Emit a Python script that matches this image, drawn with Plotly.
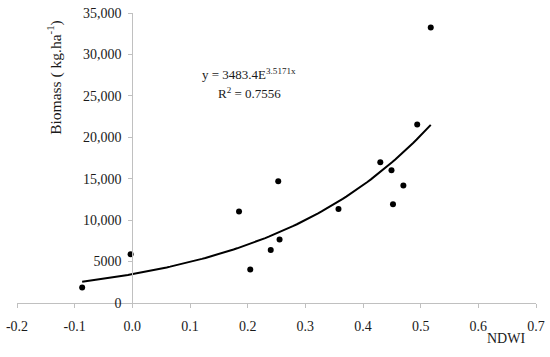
import numpy as np
import plotly.graph_objects as go

ndwi = [-0.087, -0.003, 0.185, 0.2045, 0.240, 0.253, 0.2553, 0.3575, 0.430, 0.4494, 0.452, 0.470, 0.494, 0.5175]
biomass = [1860, 5880, 11050, 4030, 6400, 14700, 7650, 11350, 16990, 16030, 11920, 14180, 21550, 33260]

fit_a = 3483.4
fit_b = 3.5171

x_ticks = [-0.2, -0.1, 0.0, 0.1, 0.2, 0.3, 0.4, 0.5, 0.6, 0.7]
x_ticklabels = ["-0.2", "-0.1", "0.0", "0.1", "0.2", "0.3", "0.4", "0.5", "0.6", "0.7"]
y_ticks = [0, 5000, 10000, 15000, 20000, 25000, 30000, 35000]
y_ticklabels = ["0", "5000", "10,000", "15,000", "20,000", "25,000", "30,000", "35,000"]

xfit = np.linspace(min(ndwi), max(ndwi), 100)
yfit = fit_a * np.exp(fit_b * xfit)

FONT = "Liberation Serif"
AX = "#c0c0c0"
TXT = "#1a1a1a"

W, H = 550, 357

fig = go.Figure()
fig.add_trace(go.Scatter(x=xfit, y=yfit, mode="lines", line=dict(color="black", width=2), hoverinfo="skip"))
fig.add_trace(go.Scatter(x=ndwi, y=biomass, mode="markers", marker=dict(color="black", size=6)))

xmin, xmax = -0.2, 0.7
ypos = (0 - xmin) / (xmax - xmin)

# plot area in window pixels
pl, pr, pt, pb = 16.5, 535.6, 12.7, 302.7

fig.update_layout(
    width=W, height=H,
    margin=dict(l=pl, r=W - pr, t=pt, b=H - pb, autoexpand=False),
    paper_bgcolor="white", plot_bgcolor="white",
    showlegend=False,
    font=dict(family=FONT, size=14, color=TXT),
    xaxis=dict(range=[xmin, xmax], tickvals=x_ticks, ticktext=x_ticklabels,
               showgrid=False, zeroline=False, showline=True, linecolor=AX, linewidth=1,
               ticks="outside", ticklen=4, tickcolor=AX, ticklabelstandoff=6, automargin=False,
               ticklabeloverflow="allow"),
    yaxis=dict(range=[0, 35000], tickvals=y_ticks, ticktext=y_ticklabels,
               showgrid=False, zeroline=False, showline=True, linecolor=AX, linewidth=1,
               ticks="outside", ticklen=4, tickcolor=AX, anchor="free", position=ypos,
               ticklabelstandoff=4, automargin=False, ticklabeloverflow="allow"),
)

def px2paper(px, py):
    return (px - pl) / (pr - pl), (pb - py) / (pb - pt)

ax, ay = px2paper(54, 77)
bx, by = px2paper(506, 338)
ex, ey = px2paper(249, 74)
rx, ry = px2paper(249, 93)
fig.add_annotation(text="Biomass ( kg.ha<sup>-1</sup>)", xref="paper", yref="paper", x=ax, y=ay,
                   showarrow=False, textangle=-90, font=dict(family=FONT, size=15.5, color=TXT),
                   xanchor="center", yanchor="middle")
fig.add_annotation(text="NDWI", xref="paper", yref="paper", x=bx, y=by, showarrow=False,
                   font=dict(family=FONT, size=14, color=TXT), xanchor="center", yanchor="middle")
fig.add_annotation(text="y = 3483.4E<sup>3.5171x</sup>", xref="paper", yref="paper", x=ex, y=ey,
                   showarrow=False, font=dict(family=FONT, size=13, color=TXT),
                   xanchor="center", yanchor="middle")
fig.add_annotation(text="R<sup>2</sup> = 0.7556", xref="paper", yref="paper", x=rx, y=ry,
                   showarrow=False, font=dict(family=FONT, size=13, color=TXT),
                   xanchor="center", yanchor="middle")

fig.write_html("out.html", config={"displayModeBar": False},
               post_script="document.body.style.margin='0';document.body.style.overflow='hidden';")
